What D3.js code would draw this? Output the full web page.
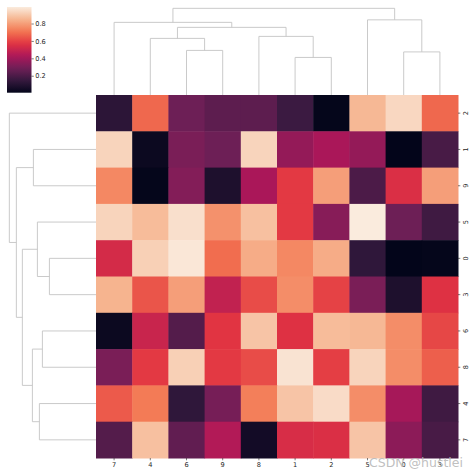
<!DOCTYPE html>
<html lang="en">
<head>
<meta charset="UTF-8">
<title>clustermap</title>
<script src="https://cdn.jsdelivr.net/npm/d3@7"></script>
<style>
  body { margin: 0; background: #fff; }
  text { font-family: "DejaVu Sans", sans-serif; }
</style>
</head>
<body>
<script>

    // labels in the order they are drawn (after clustering)
    var colLabels = ["7", "4", "6", "9", "8", "1", "2", "5", "0", "3"];
    var rowLabels = ["2", "1", "9", "5", "0", "3", "6", "8", "4", "7"];

    // cell values, one array per displayed row
    var values = [
        [0.12, 0.68, 0.28, 0.24, 0.24, 0.16, 0.01, 0.86, 0.94, 0.68],
        [0.93, 0.03, 0.31, 0.28, 0.93, 0.37, 0.42, 0.37, 0.00, 0.19],
        [0.75, 0.01, 0.33, 0.08, 0.42, 0.58, 0.80, 0.20, 0.55, 0.80],
        [0.93, 0.87, 0.96, 0.77, 0.88, 0.58, 0.34, 0.99, 0.28, 0.17],
        [0.53, 0.92, 0.98, 0.69, 0.83, 0.75, 0.83, 0.13, 0.005, 0.01],
        [0.85, 0.64, 0.80, 0.48, 0.62, 0.76, 0.60, 0.31, 0.08, 0.56],
        [0.03, 0.50, 0.22, 0.57, 0.89, 0.56, 0.87, 0.86, 0.76, 0.61],
        [0.31, 0.58, 0.92, 0.58, 0.62, 0.97, 0.59, 0.93, 0.76, 0.66],
        [0.65, 0.72, 0.13, 0.30, 0.73, 0.89, 0.95, 0.76, 0.41, 0.17],
        [0.22, 0.88, 0.25, 0.44, 0.05, 0.54, 0.55, 0.89, 0.35, 0.19]
    ];

    // linkage: [left, right, distance], cluster i is called "c"+i
    var colLinks = [
        ["1", "2", 0.75],
        ["0", "3", 0.86],
        ["6", "9", 0.89],
        ["4", "c2", 1.13],
        ["8", "c0", 1.17],
        ["c3", "c4", 1.35],
        ["7", "c5", 1.45],
        ["5", "c1", 1.50],
        ["c6", "c7", 1.73]
    ];
    var rowLinks = [
        ["0", "3", 0.93],
        ["6", "8", 1.07],
        ["4", "7", 1.13],
        ["5", "c0", 1.17],
        ["1", "9", 1.25],
        ["c1", "c2", 1.27],
        ["c3", "c5", 1.47],
        ["c4", "c6", 1.59],
        ["2", "c7", 1.73]
    ];

    var cbTicks = [0.2, 0.4, 0.6, 0.8];
    var vmin = 0.005, vmax = 0.99;

    // seaborn "rocket"
    var rocket = ["#03051a", "#35193e", "#701f57", "#ad1759", "#e13342", "#f37651", "#f6b48f", "#faebdd"];
    var interp = d3.piecewise(d3.interpolateRgb, rocket);
    var color = function(v) { return interp(Math.max(0, Math.min(1, (v - vmin) / (vmax - vmin)))); };

    var W = 474, H = 474;
    var svg = d3.select("body").append("svg")
            .attr("width", W).attr("height", H);

    var x = d3.scaleBand().domain(colLabels).range([96, 458]);
    var y = d3.scaleBand().domain(rowLabels).range([95, 458]);

    var fs = 6.6, tickLen = 2.3, txt = "#262626";

    // heatmap
    var cells = [];
    values.forEach(function(row, i) {
        row.forEach(function(v, j) {
            cells.push({r: rowLabels[i], c: colLabels[j], v: v});
        });
    });
    svg.append("g").selectAll("rect").data(cells).enter().append("rect")
            .attr("x", function(d) { return x(d.c); })
            .attr("y", function(d) { return y(d.r); })
            .attr("width", x.bandwidth() + 0.5)
            .attr("height", y.bandwidth() + 0.5)
            .attr("fill", function(d) { return color(d.v); });

    // bottom axis
    var xa = svg.append("g").attr("transform", "translate(0,458)")
            .call(d3.axisBottom(x).tickSize(tickLen).tickPadding(2));
    xa.select(".domain").remove();
    xa.selectAll("line").attr("stroke", txt).attr("stroke-width", 0.6);
    xa.selectAll("text").attr("font-size", fs).attr("fill", txt)
            .attr("font-family", "DejaVu Sans");

    // right axis, rotated labels
    var ya = svg.append("g").attr("transform", "translate(458,0)")
            .call(d3.axisRight(y).tickSize(tickLen).tickPadding(2));
    ya.select(".domain").remove();
    ya.selectAll("line").attr("stroke", txt).attr("stroke-width", 0.6);
    ya.selectAll("text").attr("font-size", fs).attr("fill", txt)
            .attr("font-family", "DejaVu Sans")
            .attr("x", 0).attr("dy", null)
            .attr("text-anchor", "middle")
            .attr("transform", "translate(7.5,0) rotate(-90)")
            .attr("dominant-baseline", "central");

    // dendrograms
    function dendro(links, pos, hscale, horizontal) {
        var nodes = {};
        var lines = [];
        links.forEach(function(l, i) {
            var a = nodes[l[0]] || {p: pos(l[0]), h: 0};
            var b = nodes[l[1]] || {p: pos(l[1]), h: 0};
            var h = l[2];
            lines.push([[a.p, a.h], [a.p, h], [b.p, h], [b.p, b.h]]);
            nodes["c" + i] = {p: (a.p + b.p) / 2, h: h};
        });
        var line = d3.line()
                .x(function(d) { return horizontal ? hscale(d[1]) : d[0]; })
                .y(function(d) { return horizontal ? d[0] : hscale(d[1]); });
        svg.append("g").selectAll("path").data(lines).enter().append("path")
                .attr("d", line)
                .attr("fill", "none")
                .attr("stroke", "#c4c4c4")
                .attr("stroke-width", 0.9);
    }

    var colMax = d3.max(colLinks, function(d) { return d[2]; });
    var rowMax = d3.max(rowLinks, function(d) { return d[2]; });
    var topH = d3.scaleLinear().domain([0, colMax * 1.05]).range([95, 4]);
    var leftH = d3.scaleLinear().domain([0, rowMax * 1.05]).range([96, 5]);

    dendro(colLinks, function(k) { return x(k) + x.bandwidth() / 2; }, topH, false);
    dendro(rowLinks, function(k) { return y(k) + y.bandwidth() / 2; }, leftH, true);

    // colorbar
    var cb = d3.scaleLinear().domain([vmin, vmax]).range([92.7, 7]);
    var grad = svg.append("defs").append("linearGradient")
            .attr("id", "cbgrad")
            .attr("x1", 0).attr("y1", 1).attr("x2", 0).attr("y2", 0);
    grad.selectAll("stop").data(d3.range(0, 1.0001, 0.05)).enter().append("stop")
            .attr("offset", function(d) { return d; })
            .attr("stop-color", function(d) { return interp(d); });
    svg.append("rect")
            .attr("x", 7).attr("y", cb(vmax))
            .attr("width", 24.5).attr("height", cb(vmin) - cb(vmax))
            .attr("fill", "url(#cbgrad)");
    var ca = svg.append("g").attr("transform", "translate(31.5,0)")
            .call(d3.axisRight(cb).tickValues(cbTicks).tickSize(tickLen).tickPadding(1.5)
                    .tickFormat(d3.format(".1f")));
    ca.select(".domain").remove();
    ca.selectAll("line").attr("stroke", txt).attr("stroke-width", 0.6);
    ca.selectAll("text").attr("font-size", fs).attr("fill", txt)
            .attr("font-family", "DejaVu Sans");

    // watermark
    svg.append("text")
            .attr("x", 463).attr("y", 467)
            .attr("text-anchor", "end")
            .attr("font-family", "Liberation Sans, Arial, sans-serif")
            .attr("font-size", 12.5)
            .attr("fill", "#b8b8b8")
            .attr("fill-opacity", 0.9)
            .text("CSDN @hustlei");

</script>
</body>
</html>
